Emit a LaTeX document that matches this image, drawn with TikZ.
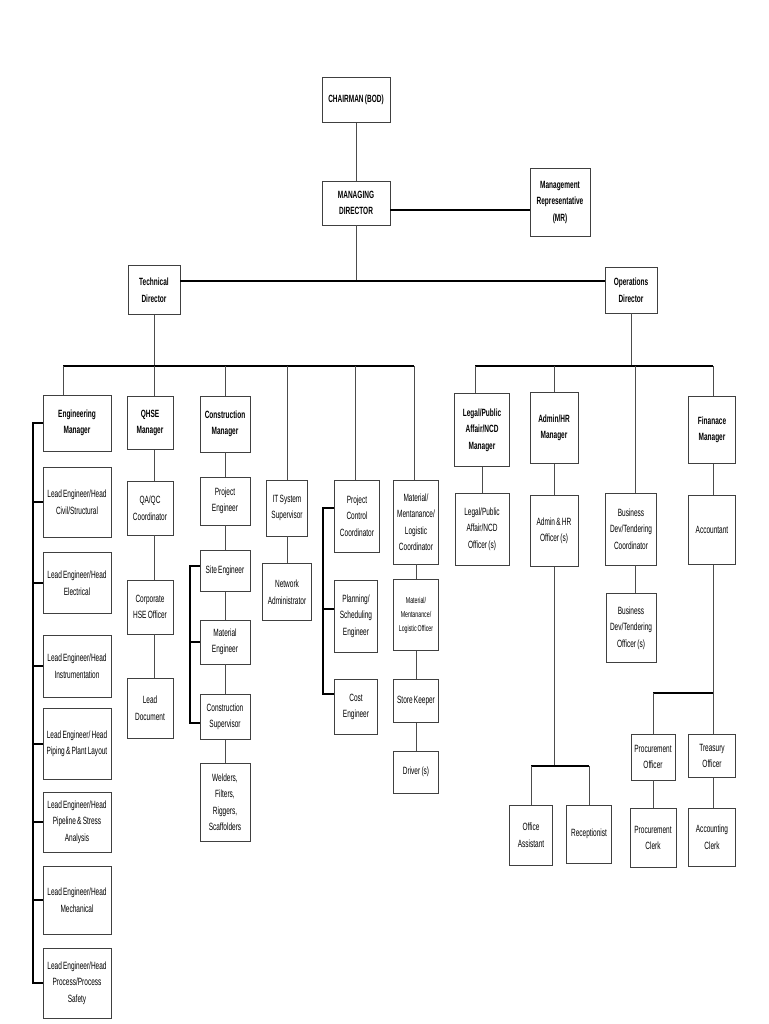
\documentclass[tikz,border=0pt]{standalone}
\usepackage{fontspec}
\setmainfont{Liberation Sans}[FakeStretch=0.62,WordSpace=0.7]
\begin{document}
\begin{tikzpicture}[x=1pt,y=-1pt,
  bx/.style={draw=black!75,line width=0.9pt,fill=white,align=center,inner sep=1pt,font=\fontsize{10.5}{16.5}\selectfont},
  bb/.style={bx,font=\fontsize{10.5}{16.5}\selectfont\bfseries},
  ln/.style={draw=black!70,line width=1pt},
  bus/.style={draw=black,line width=1.4pt}]
\useasboundingbox (0,0) rectangle (768,1024);
\newcommand\bxn[7]{\node[#1,minimum width=#5,minimum height=#6] (#2) at (#3,#4) {#7};}
% top
\bxn{bb}{ch}{356}{100}{68pt}{45pt}{CHAIRMAN (BOD)}
\bxn{bb}{md}{356}{203}{68pt}{44pt}{MANAGING\\DIRECTOR}
\bxn{bb}{mr}{560}{202}{60pt}{68pt}{Management\\Representative\\(MR)}
\bxn{bb}{td}{154}{290}{52pt}{49pt}{Technical\\Director}
\bxn{bb}{od}{631}{290}{52pt}{46pt}{Operations\\Director}
% left managers
\bxn{bb}{em}{77}{423}{68pt}{56pt}{Engineering\\Manager}
\bxn{bb}{qm}{150}{423}{46pt}{53pt}{QHSE\\Manager}
\bxn{bb}{cm}{225}{424}{50pt}{56pt}{Construction\\Manager}
% engineering leads
\bxn{bx}{l1}{77}{502}{68pt}{70pt}{Lead Engineer/Head\\Civil/Structural}
\bxn{bx}{l2}{77}{583}{68pt}{61pt}{Lead Engineer/Head\\Electrical}
\bxn{bx}{l3}{77}{666}{68pt}{62pt}{Lead Engineer/Head\\Instrumentation}
\bxn{bx}{l4}{77}{744}{68pt}{71pt}{Lead Engineer/ Head\\Piping \& Plant Layout}
\bxn{bx}{l5}{77}{822}{68pt}{60pt}{Lead Engineer/Head\\Pipeline \& Stress\\Analysis}
\bxn{bx}{l6}{77}{900}{68pt}{68pt}{Lead Engineer/Head\\Mechanical}
\bxn{bx}{l7}{77}{983}{68pt}{70pt}{Lead Engineer/Head\\Process/Process\\Safety}
% QHSE
\bxn{bx}{q1}{150}{508}{46pt}{54pt}{QA/QC\\Coordinator}
\bxn{bx}{q2}{150}{607}{46pt}{54pt}{Corporate\\HSE Officer}
\bxn{bx}{q3}{150}{708}{46pt}{60pt}{Lead\\Document}
% construction
\bxn{bx}{c1}{225}{501}{50pt}{48pt}{Project\\Engineer}
\bxn{bx}{c2}{225}{571}{50pt}{41pt}{Site Engineer}
\bxn{bx}{c3}{225}{642}{50pt}{44pt}{Material\\Engineer}
\bxn{bx}{c4}{225}{717}{50pt}{45pt}{Construction\\Supervisor}
\bxn{bx}{c5}{225}{802}{50pt}{78pt}{Welders,\\Filters,\\Riggers,\\Scaffolders}
% IT
\bxn{bx}{it}{287}{508}{41pt}{56pt}{IT System\\Supervisor}
\bxn{bx}{na}{287}{592}{49pt}{57pt}{Network\\Administrator}
% project control
\bxn{bx}{pc}{357}{516}{45pt}{72pt}{Project\\Control\\Coordinator}
\bxn{bx}{ps}{356}{616}{43pt}{72pt}{Planning/\\Scheduling\\Engineer}
\bxn{bx}{ce}{356}{707}{43pt}{55pt}{Cost\\Engineer}
% material
\bxn{bx}{m1}{416}{522}{45pt}{84pt}{Material/\\Mentanance/\\Logistic\\Coordinator}
\node[bx,minimum width=45pt,minimum height=71pt,font=\fontsize{8.5}{14}\selectfont] (m2) at (416,615) {Material/\\Mentanance/\\Logistic Officer};
\bxn{bx}{m3}{416}{701}{45pt}{43pt}{Store Keeper}
\bxn{bx}{m4}{416}{772}{45pt}{42pt}{Driver (s)}
% right
\bxn{bb}{lm}{482}{430}{55pt}{73pt}{Legal/Public\\Affair/NCD\\Manager}
\bxn{bb}{am}{554}{428}{48pt}{71pt}{Admin/HR\\Manager}
\bxn{bb}{fm}{712}{430}{47pt}{67pt}{Finanace\\Manager}
\bxn{bx}{lo}{482}{529}{54pt}{72pt}{Legal/Public\\Affair/NCD\\Officer (s)}
\bxn{bx}{ao}{554}{531}{48pt}{71pt}{Admin \& HR\\Officer (s)}
\bxn{bx}{bd}{631}{529}{51pt}{72pt}{Business\\Dev/Tendering\\Coordinator}
\bxn{bx}{bo}{631}{628}{50pt}{69pt}{Business\\Dev/Tendering\\Officer (s)}
\bxn{bx}{ac}{712}{530}{47pt}{69pt}{Accountant}
\bxn{bx}{po}{653}{757}{44pt}{46pt}{Procurement\\Officer}
\bxn{bx}{to}{712}{756}{47pt}{43pt}{Treasury\\Officer}
\bxn{bx}{pk}{653}{838}{46pt}{59pt}{Procurement\\Clerk}
\bxn{bx}{ak}{712}{837}{47pt}{58pt}{Accounting\\Clerk}
\bxn{bx}{oa}{531}{835}{43pt}{60pt}{Office\\Assistant}
\bxn{bx}{rc}{589}{834}{45pt}{58pt}{Receptionist}
% bus coordinates
\coordinate (b1) at (356,281);
\coordinate (bl) at (63,366);
\coordinate (br) at (475,366);
\coordinate (sp) at (33,423);
\coordinate (cs) at (190,566);
\coordinate (ps0) at (323,508);
\coordinate (ab) at (554,766);
\coordinate (fb) at (713,693);
% connectors
\draw[ln] (ch) -- (md);
\draw[bus] (md.east |- 0,210) -- (mr.west |- 0,210);
\draw[ln] (md) -- (b1);
\draw[bus] (td.east |- b1) -- (od.west |- b1);
\draw[ln] (td) -- (td.south |- bl);
\draw[bus] (bl) -- (414,366);
\draw[ln] (bl) -- (bl |- em.north);
\draw[ln] (qm.north -| 154,0) -- (154,366);
\draw[ln] (cm) -- (cm |- bl);
\draw[ln] (it) -- (it |- bl);
\draw[ln] (pc.north -| 355,0) -- (355,366);
\draw[ln] (m1.north -| 414,0) -- (414,366);
\draw[ln] (od) -- (od.south |- br);
\draw[bus] (br) -- (713,366);
\draw[ln] (lm.north -| br) -- (br);
\draw[ln] (am) -- (am |- br);
\draw[ln] (bd.north -| 635,0) -- (635,366);
\draw[ln] (fm.north -| 713,0) -- (713,366);
% engineering spine
\draw[bus] (em.west) -- (sp) -- (sp |- l7.west) -- (l7.west);
\foreach \n in {l1,l2,l3,l4,l5,l6} \draw[bus] (sp |- \n.west) -- (\n.west);
% qhse
\draw[ln] (qm.south -| 154,0) -- (q1.north -| 154,0);
\draw[ln] (q1.south -| 154,0) -- (q2.north -| 154,0);
\draw[ln] (q2.south -| 154,0) -- (q3.north -| 154,0);
% construction
\draw[ln] (cm) -- (c1); \draw[ln] (c1) -- (c2); \draw[ln] (c2) -- (c3); \draw[ln] (c3) -- (c4); \draw[ln] (c4) -- (c5);
\draw[bus] (c2.west |- cs) -- (cs) -- (cs |- 0,723) -- (c4.west |- 0,723);
\draw[bus] (cs |- c3.west) -- (c3.west);
\draw[ln] (it) -- (na);
% project control
\draw[bus] (pc.west |- ps0) -- (ps0) -- (ps0 |- 0,694) -- (ce.west |- 0,694);
\draw[bus] (ps0 |- 0,609) -- (ps.west |- 0,609);
% material
\draw[ln] (m1) -- (m2); \draw[ln] (m2) -- (m3); \draw[ln] (m3) -- (m4);
% right side
\draw[ln] (lm) -- (lo);
\draw[ln] (am) -- (ao);
\draw[ln] (ao) -- (ab);
\draw[bus] (oa.north |- ab) -- (rc.north |- ab);
\draw[ln] (oa.north |- ab) -- (oa.north);
\draw[ln] (rc.north |- ab) -- (rc.north);
\draw[ln] (bd.south -| 635,0) -- (bo.north -| 635,0);
\draw[ln] (fm.south -| fb) -- (ac.north -| fb);
\draw[ln] (ac.south -| fb) -- (fb) -- (to.north -| fb);
\draw[bus] (fb) -- (po.north |- fb);
\draw[ln] (po.north |- fb) -- (po.north);
\draw[ln] (po) -- (pk);
\draw[ln] (to.south -| fb) -- (ak.north -| fb);
\end{tikzpicture}
\end{document}
